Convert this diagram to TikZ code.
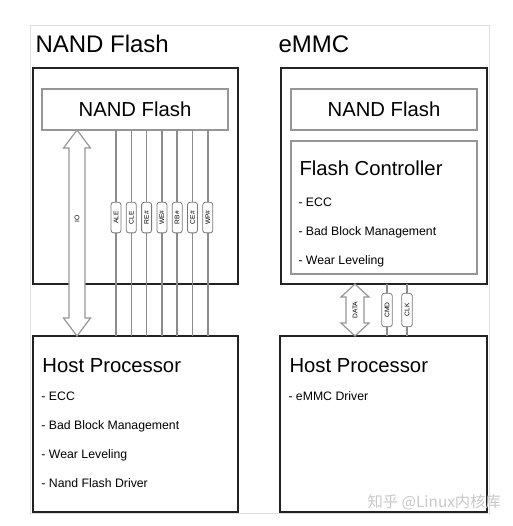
\documentclass[tikz,border=0pt]{standalone}
\usepackage{fontspec}
\setmainfont{Liberation Sans}
\newfontfamily\cjkfont{Noto Sans CJK SC}
\usetikzlibrary{calc}

\tikzset{every picture/.style={line width=0.75pt}}
\tikzset{
  outerbox/.style={draw={rgb, 255:red, 34; green, 34; blue, 34}, line width=1.1pt, inner sep=0, outer sep=0, anchor=north west},
  innerbox/.style={draw={rgb, 255:red, 150; green, 150; blue, 150}, line width=0.8pt, inner sep=0, outer sep=0, anchor=north west, font=\fontsize{15.2}{16}\selectfont},
  title/.style={anchor=base west, inner sep=0, font=\fontsize{18}{20}\selectfont},
  head/.style={anchor=base west, inner sep=0, font=\fontsize{15.2}{16}\selectfont},
  item/.style={anchor=base west, inner sep=0, font=\fontsize{9.2}{10}\selectfont},
  sigline/.style={draw={rgb, 255:red, 140; green, 140; blue, 140}, line width=1.1pt},
  siglabel/.style={draw={rgb, 255:red, 120; green, 120; blue, 120}, fill=white, rounded corners=2pt, line width=0.6pt, minimum width=23pt, minimum height=7.5pt, inner sep=0, rotate=90, font=\fontsize{5}{5}\selectfont},
  dblarrow/.style={draw={rgb, 255:red, 150; green, 150; blue, 150}, fill=white, line width=0.9pt, line join=miter},
  arrowtext/.style={rotate=90, inner sep=0, font=\fontsize{5}{5}\selectfont}
}

\begin{document}
\begin{tikzpicture}[x=0.75pt,y=0.75pt,yscale=-1,xscale=1]
\useasboundingbox (0,0) rectangle (512,526);

%Frame
\draw [draw={rgb, 255:red, 222; green, 222; blue, 222}] (30,25) rectangle (489,513) ;

% Titles
\node [title] (tnand) at (35,52) {NAND Flash};
\node [title] (temmc) at (278,52) {eMMC};

%Left: raw NAND
\node [outerbox, minimum width=0.75pt*205, minimum height=0.75pt*216] (rawL) at (33,68) {};
\node [innerbox, minimum width=0.75pt*186, minimum height=0.75pt*41] (nandL) at (42,89) {NAND Flash};
%Left: host
\node [outerbox, minimum width=0.75pt*205, minimum height=0.75pt*176] (hostL) at (33,336) {};
\node [head] (hostLt) at (42,372) {Host Processor};
\foreach \t [count=\i] in {ECC, Bad Block Management, Wear Leveling, Nand Flash Driver}
  \node [item] (hostL\i) at (41,{371+29*\i}) {- \t};

%IO bus
\path (77,0) coordinate (iox);
\coordinate (ioT) at (nandL.south -| iox);
\coordinate (ioB) at (hostL.north -| iox);
\draw [dblarrow] (ioT) -- ++(13.5,18) -- ++(-5.5,0) -- ($(ioB)+(8,-18)$) -- ++(5.5,0) -- (ioB) -- ++(-13.5,-18) -- ++(5.5,0) -- ($(ioT)+(-8,18)$) -- ++(-5.5,0) -- cycle ;
\node [arrowtext] (iot) at ($(ioT)!0.43!(ioB)$) {IO};

%Control lines
\foreach \s/\x in {ALE/116, CLE/131.3, RE\#/146.6, WE\#/161.9, RB\#/177.2, CE\#/192.5, WP\#/207.8} {
  \path (\x,0) coordinate (sx);
  \draw [sigline] (nandL.south -| sx) -- node [siglabel, pos=0.425] {\s} (hostL.north -| sx) ;
}

%Right: eMMC
\node [outerbox, minimum width=0.75pt*206, minimum height=0.75pt*216] (emmc) at (281,68) {};
\node [innerbox, minimum width=0.75pt*186, minimum height=0.75pt*41] (nandR) at (291,89) {NAND Flash};
\node [innerbox, minimum width=0.75pt*186, minimum height=0.75pt*133] (ctrl) at (291,141) {};
\node [head] (ctrlt) at (299,175) {Flash Controller};
\foreach \t [count=\i] in {ECC, Bad Block Management, Wear Leveling}
  \node [item] (ctrl\i) at (298,{177+29*\i}) {- \t};
%Right: host
\node [outerbox, minimum width=0.75pt*207, minimum height=0.75pt*176] (hostR) at (280,336) {};
\node [head] (hostRt) at (289,372) {Host Processor};
\node [item] (hostR1) at (288,400) {- eMMC Driver};

%DATA bus
\path (355,0) coordinate (dx);
\coordinate (dT) at (emmc.south -| dx);
\coordinate (dB) at (hostR.north -| dx);
\draw [dblarrow] (dT) -- ++(14,13) -- ++(-5,0) -- ($(dB)+(9,-13)$) -- ++(5,0) -- (dB) -- ++(-14,-13) -- ++(5,0) -- ($(dT)+(-9,13)$) -- ++(-5,0) -- cycle ;
\node [arrowtext] (dt) at ($(dT)!0.5!(dB)$) {DATA};

%CMD / CLK
\foreach \s/\x in {CMD/387, CLK/407} {
  \path (\x,0) coordinate (sx);
  \draw [sigline] (emmc.south -| sx) -- node [siglabel, minimum width=25pt, minimum height=8pt] {\s} (hostR.north -| sx) ;
}

% Watermark
\node [anchor=base west, inner sep=0, text={rgb, 255:red, 200; green, 200; blue, 200}, font=\cjkfont\fontsize{11.5}{12}\selectfont] (wm) at (367,507) {知乎 @Linux内核库};

\end{tikzpicture}
\end{document}
